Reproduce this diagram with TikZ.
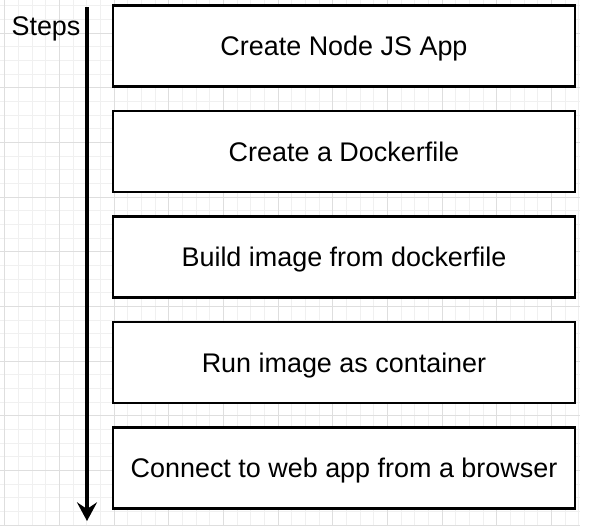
\documentclass[tikz,border=0pt]{standalone}
\usepackage{fontspec}
\setmainfont{Liberation Sans}
\usetikzlibrary{arrows.meta, positioning}
\tikzstyle{stepbox} = [rectangle, minimum width=346.5pt, minimum height=60.75pt, text height=14.4pt, text depth=0pt, text centered, draw=black, line width=2pt, fill=white, font=\fontsize{20.2}{24}\selectfont]
\tikzstyle{minorgrid} = [draw=black!6, line width=0.6pt]
\tikzstyle{majorgrid} = [draw=black!13, line width=0.6pt]
\tikzstyle{arrow} = [line width=2.5pt, -{Stealth[length=14pt, width=15pt, inset=5pt]}]

\begin{document}
\begin{tikzpicture}[x=0.75pt, y=-0.75pt, node distance=79.1pt]
\useasboundingbox (0,0) rectangle (589,525);

% grid
\foreach \i in {0,...,42} \draw[minorgrid] ({4.6+13.67*\i},0) -- ({4.6+13.67*\i},525);
\foreach \j in {0,...,38} \draw[minorgrid] (0,{5.64+13.67*\j}) -- (580,{5.64+13.67*\j});
\foreach \i in {0,...,10} \draw[majorgrid] ({4.6+54.68*\i},0) -- ({4.6+54.68*\i},525);
\foreach \j in {0,...,9} \draw[majorgrid] (0,{33+54.68*\j}) -- (580,{33+54.68*\j});

\node (app) [stepbox] at (344,46) {Create Node JS App};
\node (dockerfile) [stepbox, below of=app] {Create a Dockerfile};
\node (build) [stepbox, below of=dockerfile] {Build image from dockerfile};
\node (run) [stepbox, below of=build] {Run image as container};
\node (connect) [stepbox, below of=run] {Connect to web app from a browser};

\node (steps) [anchor=base, inner sep=0pt, font=\fontsize{20.2}{24}\selectfont] at (46,35) {Steps};
\coordinate (top) at (87,7);
\coordinate (bottom) at (87,521);

\draw [arrow] (top) -- (bottom);

\end{tikzpicture}
\end{document}
